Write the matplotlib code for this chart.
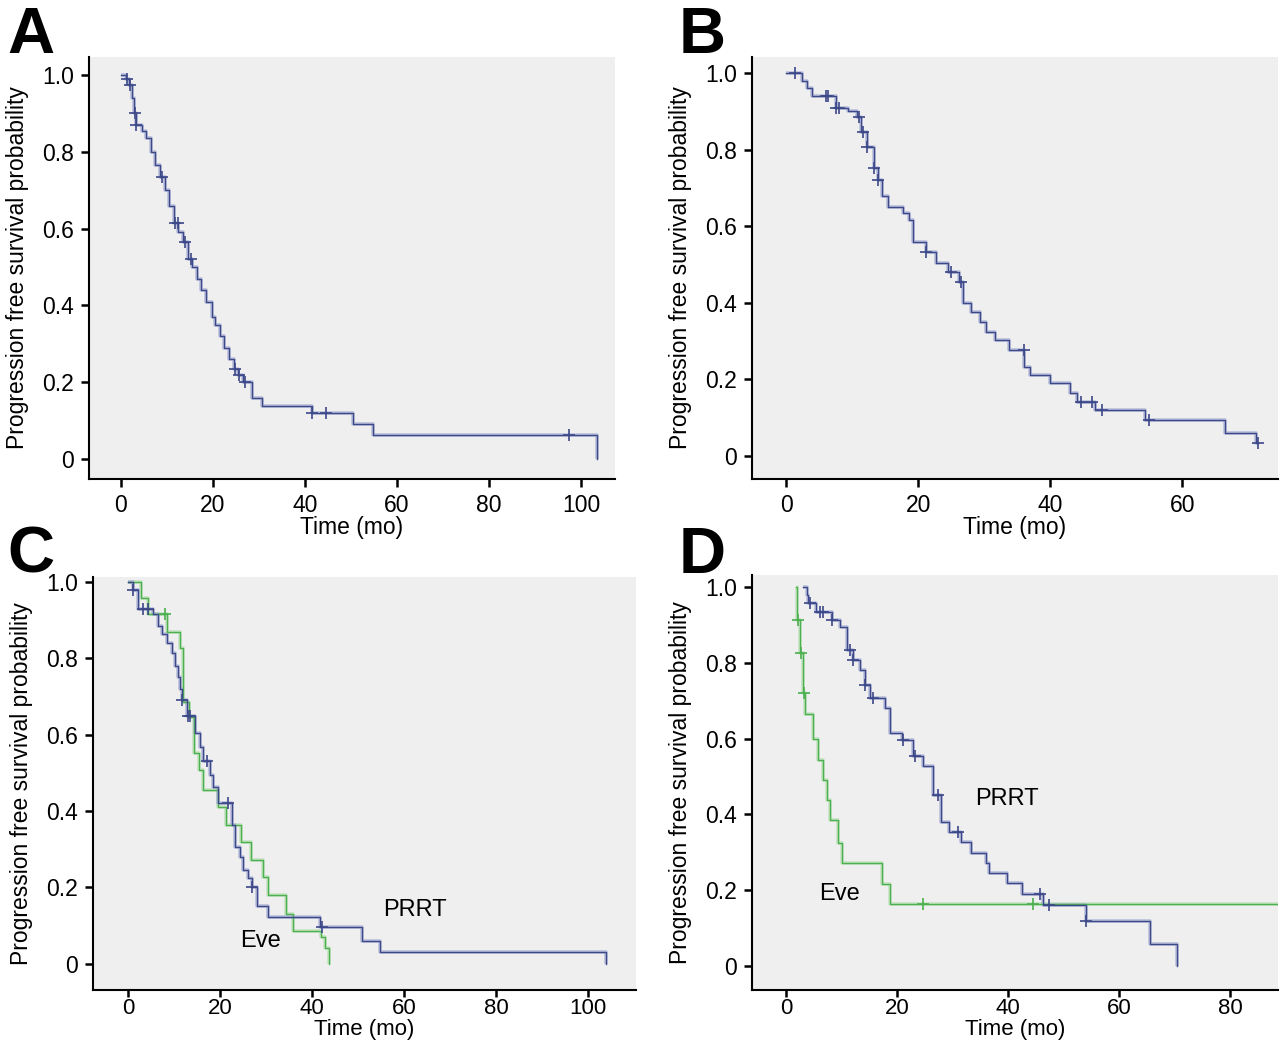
import matplotlib.pyplot as plt
import numpy as np

plt.rcParams["font.family"] = ["Liberation Sans", "DejaVu Sans"]

BG = "#efefef"
PRRT_DARK = "#3d4888"
PRRT_LIGHT = "#a3abd4"
EVE_DARK = "#4caf50"
EVE_LIGHT = "#b2dfae"

# --- panel A: all patients (PRRT) ---
a_time = [0, 1.0, 1.8, 2.4, 2.8, 3.2, 4.5, 5.5, 6.5, 7.5, 8.5, 9.5,
          10.5, 11.5, 12.5, 13.5, 14.6, 15.5, 16.5, 17.5, 18.5, 19.8, 20.5, 21.5,
          22.5, 23.5, 24.5, 25.5, 26.5, 28.5, 30.6, 41.5, 50.5, 54.8, 103.5]
a_surv = [1.0, 0.99, 0.975, 0.94, 0.90, 0.87, 0.855, 0.835, 0.80, 0.765, 0.735, 0.70,
          0.66, 0.615, 0.59, 0.565, 0.52, 0.50, 0.47, 0.44, 0.41, 0.37, 0.35, 0.32,
          0.29, 0.26, 0.235, 0.22, 0.20, 0.16, 0.138, 0.12, 0.091, 0.062, 0.0]
a_cens = [1.3, 2.0, 3.0, 3.3, 8.9, 11.8, 12.4, 14.0, 15.2, 24.8, 25.6, 27.0,
          41.5, 44.6, 97.4]

# --- panel B ---
b_time = [0, 2.4, 3.2, 4.0, 7.6, 9.4, 10.8, 11.3, 12.2, 13.3, 14.0, 14.6,
          15.5, 17.7, 18.6, 19.2, 21.2, 22.7, 24.5, 26.2, 26.8, 28.0, 29.3, 30.3,
          31.6, 33.7, 36.1, 36.9, 40.0, 43.0, 44.0, 46.8, 54.4, 66.5, 71.2, 71.5]
b_surv = [1.0, 0.98, 0.96, 0.94, 0.91, 0.90, 0.885, 0.846, 0.807, 0.752, 0.72, 0.68,
          0.65, 0.634, 0.616, 0.56, 0.533, 0.504, 0.48, 0.455, 0.40, 0.376, 0.35, 0.324,
          0.303, 0.277, 0.232, 0.211, 0.19, 0.164, 0.141, 0.12, 0.094, 0.06, 0.034, 0.034]
b_cens = [1.4, 6.0, 6.4, 7.6, 8.0, 11.0, 11.7, 12.2, 13.3, 14.0, 21.2, 25.0,
          26.5, 36.0, 44.6, 46.3, 47.9, 55.0, 71.5]

# --- panel C: PRRT vs Eve ---
c_prrt_time = [0, 1.0, 2.2, 5.4, 6.5, 7.4, 8.5, 9.6, 10.2, 10.9, 11.3, 11.7, 12.8,
               14.6, 15.7, 16.3, 17.8, 18.5, 19.6, 22.6, 23.3, 24.3, 25.0, 26.1, 27.0,
               28.0, 30.5, 41.7, 50.9, 54.8, 103.9]
c_prrt_surv = [1.0, 0.98, 0.93, 0.917, 0.885, 0.864, 0.84, 0.814, 0.78, 0.75, 0.72, 0.69, 0.65,
               0.605, 0.567, 0.53, 0.494, 0.463, 0.42, 0.363, 0.306, 0.28, 0.246, 0.225, 0.20,
               0.15, 0.123, 0.097, 0.06, 0.031, 0.0]
c_prrt_cens = [1.1, 3.3, 4.3, 11.7, 13.0, 13.5, 17.2, 21.7, 27.0, 42.2]

c_eve_time = [0, 2.8, 4.3, 8.5, 11.3, 12.0, 13.3, 14.4, 15.5, 16.3, 19.6, 21.3,
              24.6, 26.7, 29.3, 30.4, 34.3, 35.9, 41.9, 42.9, 43.8]
c_eve_surv = [1.0, 0.958, 0.917, 0.87, 0.827, 0.686, 0.647, 0.553, 0.508, 0.456, 0.41, 0.364,
              0.32, 0.272, 0.228, 0.181, 0.131, 0.086, 0.071, 0.042, 0.0]
c_eve_cens = [8.0]

# --- panel D: PRRT vs Eve ---
d_prrt_time = [3.1, 3.8, 4.0, 5.5, 8.3, 9.7, 11.0, 12.1, 13.3, 14.2, 15.1, 17.8, 18.7,
               20.9, 22.9, 24.6, 26.4, 27.9, 29.3, 31.5, 33.4, 36.0, 36.6, 39.8, 42.5,
               46.3, 54.0, 65.6, 70.4]
d_prrt_surv = [1.0, 0.979, 0.958, 0.935, 0.913, 0.894, 0.834, 0.807, 0.78, 0.741, 0.707, 0.68, 0.615,
               0.595, 0.555, 0.527, 0.452, 0.38, 0.354, 0.327, 0.299, 0.272, 0.245, 0.219, 0.19,
               0.161, 0.119, 0.058, 0.0]
d_prrt_cens = [4.3, 6.1, 6.6, 8.3, 11.5, 12.1, 14.2, 15.7, 21.1, 23.2, 27.4, 31.0,
               45.8, 47.4, 54.0]

d_eve_time = [1.8, 2.0, 2.6, 3.0, 3.4, 4.9, 5.8, 6.7, 7.4, 7.9, 9.4, 10.1, 17.3, 18.7, 95.0]
d_eve_surv = [1.0, 0.913, 0.826, 0.72, 0.665, 0.60, 0.544, 0.49, 0.438, 0.385, 0.325, 0.272,
              0.216, 0.164, 0.164]
d_eve_cens = [2.1, 2.8, 3.2, 24.7, 44.5]

y_ticks = [0, 0.2, 0.4, 0.6, 0.8, 1.0]
y_ticklabels = ["0", "0.2", "0.4", "0.6", "0.8", "1.0"]

FS = 16.5


def draw_km(ax, t, s, cens, dark, light):
    t = np.asarray(t)
    s = np.asarray(s)
    # blurred halo + crisp line, like the scanned figure
    ax.plot(t, s, drawstyle="steps-post", color=light, lw=2.6, alpha=0.7,
            solid_capstyle="butt", zorder=2)
    ax.plot(t, s, drawstyle="steps-post", color=dark, lw=1.0, zorder=3)
    idx = np.searchsorted(t, cens, side="right") - 1
    ax.plot(cens, s[idx], ls="none", marker="+", ms=8, mew=1.2, color=dark, zorder=4)


def style_axes(ax, xlim, ylim, xticks, tight=False):
    ax.set_facecolor(BG)
    ax.set_xlim(*xlim)
    ax.set_ylim(*ylim)
    ax.set_xticks(xticks)
    ax.set_yticks(y_ticks)
    ax.set_yticklabels(y_ticklabels)
    for side in ["top", "right"]:
        ax.spines[side].set_visible(False)
    for side in ["left", "bottom"]:
        ax.spines[side].set_linewidth(1.5)
    ax.tick_params(direction="out", length=6, width=1.8, labelsize=FS, pad=5)
    if tight:
        # bottom row: labels sit closer to the axis
        ax.tick_params(axis="x", length=5, pad=1, labelsize=16)
        ax.set_xlabel("Time (mo)", fontsize=16, labelpad=0)
    else:
        ax.set_xlabel("Time (mo)", fontsize=FS, labelpad=-1)
    ax.set_ylabel("Progression free survival probability", fontsize=FS, labelpad=9)


fig = plt.figure(figsize=(12.8, 10.51), dpi=100)

ax_a = fig.add_axes([0.0695, 0.5442, 0.411, 0.4016])
ax_b = fig.add_axes([0.5875, 0.5442, 0.411, 0.4016])
ax_c = fig.add_axes([0.0727, 0.0580, 0.424, 0.3930])
ax_d = fig.add_axes([0.5875, 0.0580, 0.411, 0.3949])

style_axes(ax_a, (-6.96, 107.4), (-0.052, 1.047), [0, 20, 40, 60, 80, 100])
draw_km(ax_a, a_time, a_surv, a_cens, PRRT_DARK, PRRT_LIGHT)

style_axes(ax_b, (-5.15, 74.5), (-0.06, 1.042), [0, 20, 40, 60])
draw_km(ax_b, b_time, b_surv, b_cens, PRRT_DARK, PRRT_LIGHT)

style_axes(ax_c, (-7.6, 110.4), (-0.069, 1.013), [0, 20, 40, 60, 80, 100], tight=True)
draw_km(ax_c, c_eve_time, c_eve_surv, c_eve_cens, EVE_DARK, EVE_LIGHT)
draw_km(ax_c, c_prrt_time, c_prrt_surv, c_prrt_cens, PRRT_DARK, PRRT_LIGHT)
ax_c.text(62.4, 0.14, "PRRT", fontsize=17, ha="center", va="center")
ax_c.text(28.9, 0.06, "Eve", fontsize=17, ha="center", va="center")

style_axes(ax_d, (-6.1, 88.6), (-0.064, 1.032), [0, 20, 40, 60, 80], tight=True)
draw_km(ax_d, d_eve_time, d_eve_surv, d_eve_cens, EVE_DARK, EVE_LIGHT)
draw_km(ax_d, d_prrt_time, d_prrt_surv, d_prrt_cens, PRRT_DARK, PRRT_LIGHT)
ax_d.text(39.8, 0.44, "PRRT", fontsize=17, ha="center", va="center")
ax_d.text(9.7, 0.19, "Eve", fontsize=17, ha="center", va="center")

# panel letters
for letter, x, y in [("A", 0.006, 0.9496), ("B", 0.530, 0.9496),
                     ("C", 0.006, 0.455), ("D", 0.530, 0.455)]:
    fig.text(x, y, letter, fontsize=47, fontweight="bold", ha="left", va="baseline")

fig.savefig("out.png", dpi=100)
